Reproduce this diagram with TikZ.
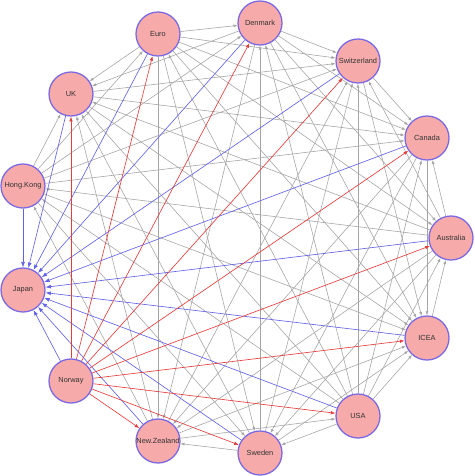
\documentclass[tikz,border=0pt]{standalone}
\usepackage{fontspec}
\setmainfont{Liberation Sans}
\usepackage{xcolor}
\usetikzlibrary{arrows.meta}
\definecolor{nodefill}{RGB}{246,170,170}
\definecolor{nodeline}{RGB}{124,104,226}
\definecolor{grayedge}{RGB}{165,165,165}
\definecolor{blueedge}{RGB}{98,98,232}
\definecolor{rededge}{RGB}{230,60,60}

\begin{document}
\begin{tikzpicture}[x=0.03cm,y=-0.03cm,
  cur/.style={shape=circle,draw=nodeline,line width=1.1pt,fill=nodefill,minimum size=1.32cm,inner sep=0pt,
    font=\fontsize{6.3}{7}\selectfont,text=black!80},
  gry/.style={grayedge,line width=0.5pt,-{Latex[length=3.4pt,width=2.6pt]}},
  blu/.style={blueedge,line width=0.55pt,-{Latex[length=4.6pt,width=3.4pt]}},
  rd/.style={rededge,line width=0.55pt,-{Latex[length=4pt,width=3pt]}}]
\useasboundingbox(0,0)rectangle(474,476);
% currencies round the circle
\node[cur](euro)at(158,34){Euro};
\node[cur](denmark)at(260,23){Denmark};
\node[cur](swiss)at(358,61){Switzerland};
\node[cur](uk)at(71,94){UK};
\node[cur](canada)at(427,138){Canada};
\node[cur](hk)at(23,186){Hong.Kong};
\node[cur](australia)at(451,238){Australia};
\node[cur](japan)at(23,290){Japan};
\node[cur](icea)at(427,338){ICEA};
\node[cur](norway)at(71,381){Norway};
\node[cur](usa)at(358,416){USA};
\node[cur](nz)at(158,441){New.Zealand};
\node[cur](sweden)at(260,453){Sweden};
% gray links
\draw[gry](hk)edge(uk)edge(euro)edge(denmark)edge(swiss)edge(canada)edge(icea)edge(sweden);
\draw[gry](uk)edge(swiss)edge(canada)edge(icea);
\draw[gry](euro)edge(uk)edge(denmark)edge(swiss)edge(canada)edge(australia)edge(icea)edge(sweden)edge(nz);
\draw[gry](denmark)edge(uk)edge(swiss)edge(canada)edge(australia)edge(icea)edge(nz);
\draw[gry](swiss)edge(canada)edge(icea);
\draw[gry](canada)edge(icea)edge(sweden)edge(nz);
\draw[gry](australia)edge(hk)edge(uk)edge(swiss)edge(canada)edge(sweden)edge(nz);
\draw[gry](icea)edge(australia);
\draw[gry](usa)edge(hk)edge(uk)edge(euro)edge(denmark)edge(swiss)edge(canada)edge(australia)edge(icea)edge(sweden);
\draw[gry](sweden)edge(uk)edge(denmark)edge(swiss)edge(icea)edge(nz);
\draw[gry](nz)edge(hk)edge(uk)edge(swiss)edge(icea)edge(usa);
% everything into Japan
\draw[blu](hk)edge(japan)(uk)edge(japan)(euro)edge(japan)(denmark)edge(japan)
(swiss)edge(japan)(canada)edge(japan)(australia)edge(japan)(icea)edge(japan)
(usa)edge(japan)(sweden)edge(japan)(nz)edge(japan)(norway)edge(japan);
% Norway out
\draw[rd](norway)edge(uk)edge(euro)edge(denmark)edge(swiss)edge(canada)
edge(australia)edge(icea)edge(usa)edge(sweden)edge(nz);
\end{tikzpicture}
\end{document}
